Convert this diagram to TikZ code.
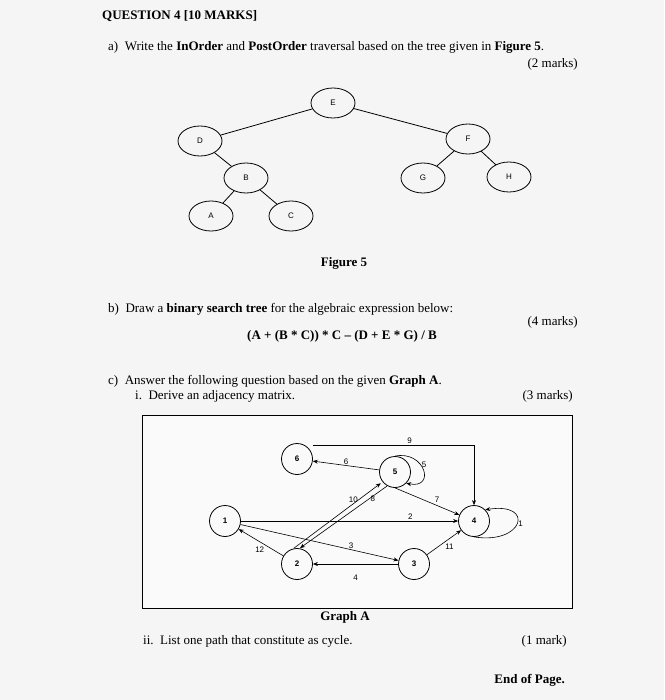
\documentclass[tikz,border=0pt]{standalone}
\usepackage{fontspec}
\setmainfont{Liberation Serif}
\newfontfamily\lsans{Liberation Sans}
\usetikzlibrary{arrows.meta,shapes.geometric}
\begin{document}
\begin{tikzpicture}[x=1pt,y=-1pt,
  bodyfont/.style={font=\fontsize{13}{15}\selectfont},
  txt/.style={anchor=west,inner sep=0pt,bodyfont},
  rtxt/.style={anchor=east,inner sep=0pt,bodyfont},
  btxt/.style={inner sep=0pt,font=\bfseries\fontsize{13}{15}\selectfont},
  tnode/.style={draw,ellipse,minimum width=44pt,minimum height=30pt,inner sep=0pt,font=\lsans\fontsize{8}{9}\selectfont,line width=0.8pt},
  gnode/.style={draw,circle,minimum size=31pt,inner sep=0pt,font=\lsans\bfseries\fontsize{8}{9}\selectfont,line width=0.8pt},
  edge/.style={-{Stealth[length=5pt,width=4pt]},line width=0.6pt},
  lab/.style={font=\lsans\fontsize{8}{9}\selectfont,inner sep=1pt}]
\fill[gray!8] (0,0) rectangle (664,700);
\useasboundingbox (0,0) rectangle (664,700);
\node[btxt,anchor=west] (q) at (102,16) {QUESTION 4 [10 MARKS]};
\node[txt] (a) at (108,47) {a)\ \ Write the \textbf{InOrder} and \textbf{PostOrder} traversal based on the tree given in \textbf{Figure 5}.};
\node[rtxt] (am) at (578,64) {(2 marks)};
% tree
\node[tnode] (E) at (333,103) {E};
\node[tnode] (D) at (200,141) {D};
\node[tnode] (F) at (468,139) {F};
\node[tnode] (B) at (246,178) {B};
\node[tnode] (G) at (423,178) {G};
\node[tnode] (H) at (509,177) {H};
\node[tnode] (A) at (211,216) {A};
\node[tnode] (C) at (291,216) {C};
\draw[line width=0.8pt] (E)--(D) (E)--(F) (D)--(B) (B)--(A) (B)--(C) (F)--(G) (F)--(H);
\node[btxt] (f5) at (344,263) {Figure 5};
\node[txt] (b) at (108,309) {b)\ \ Draw a \textbf{binary search tree} for the algebraic expression below:};
\node[rtxt] (bm) at (578,322) {(4 marks)};
\node[btxt] (ex) at (342,336) {(A + (B * C)) * C -- (D + E * G) / B};
\node[txt] (c) at (108,381) {c)\ \ Answer the following question based on the given \textbf{Graph A}.};
\node[txt] (ci) at (135,396) {i.\ \ Derive an adjacency matrix.};
\node[rtxt] (cm) at (573,396) {(3 marks)};
% graph
\draw[line width=0.8pt,fill=gray!4] (142,415) rectangle (572,608);
\node[gnode] (n6) at (297,459) {6};
\node[gnode] (n5) at (395,472) {5};
\node[gnode] (n1) at (225,521) {1};
\node[gnode] (n4) at (474,521) {4};
\node[gnode] (n2) at (297,564) {2};
\node[gnode] (n3) at (414,564) {3};
\draw[edge] (n5) -- node[lab,above]{6} (n6);
\draw[edge] (n5.north) .. controls +(30,-6) and +(30,6) .. node[lab,right,pos=0.4]{5} (n5.south east);
\draw[edge] (n6.east |- 0,445) coordinate (s6) -- (474,445) node[lab,above,pos=0.6]{9} -- (n4.north);
\draw[edge] (n5.south) -- node[lab,above right,pos=0.6]{7} (n4);
\draw[edge] (n1.east) -- node[lab,above,pos=0.78]{2} (n4.west);
\draw[edge] (n1) -- node[lab,above,pos=0.7]{3} (n3);
\draw[edge] (n2) -- node[lab,below left,pos=0.4]{12} (n1);
\draw[edge] ([xshift=-3pt]n2.north) -- node[lab,left,pos=0.75]{10} ([xshift=-3pt]n5.south west);
\draw[edge] (n5.south west) ++(3,3) coordinate (s5) -- node[lab,right,pos=0.2]{8} ([xshift=3pt]n2.north);
\draw[edge] (n3) -- node[lab,below=10pt]{4} (n2);
\draw[edge] (n3) -- node[lab,below right]{11} (n4);
\draw[edge] (n4.south) .. controls +(50,8) and +(50,-8) .. node[lab,right]{1} (n4.north east);
\node[btxt] (ga) at (345,617) {Graph A};
\node[txt] (cii) at (143,641) {ii.\ \ List one path that constitute as cycle.};
\node[rtxt] (cim) at (567,641) {(1 mark)};
\node[rtxt,font=\bfseries\fontsize{13}{15}\selectfont] (end) at (565,680) {End of Page.};
\end{tikzpicture}
\end{document}
